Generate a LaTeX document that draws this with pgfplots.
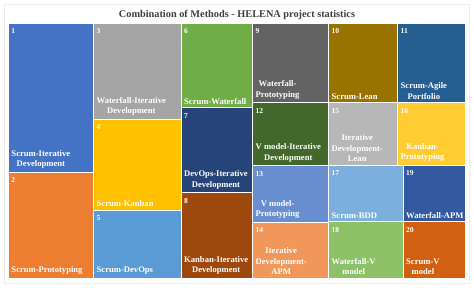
\documentclass[border=0pt]{standalone}
\usepackage{pgfplots}
\pgfplotsset{compat=1.18}
\usepackage{fontspec}
\setmainfont{Liberation Serif}
\definecolor{c1}{HTML}{4472C4}
\definecolor{c2}{HTML}{ED7D31}
\definecolor{c3}{HTML}{A5A5A5}
\definecolor{c4}{HTML}{FFC000}
\definecolor{c5}{HTML}{5B9BD5}
\definecolor{c6}{HTML}{70AD47}
\definecolor{c7}{HTML}{264478}
\definecolor{c8}{HTML}{9E480E}
\definecolor{c9}{HTML}{636363}
\definecolor{c10}{HTML}{997300}
\definecolor{c11}{HTML}{255E91}
\definecolor{c12}{HTML}{43682B}
\definecolor{c13}{HTML}{698ED0}
\definecolor{c14}{HTML}{F1975A}
\definecolor{c15}{HTML}{B7B7B7}
\definecolor{c16}{HTML}{FFCD33}
\definecolor{c17}{HTML}{7CAFDD}
\definecolor{c18}{HTML}{8CC168}
\definecolor{c19}{HTML}{335AA1}
\definecolor{c20}{HTML}{D26012}
\newcommand{\tmbox}[7]{%
  \addplot[fill=#5, draw=white, line width=1pt] coordinates {(#1,#2) (#3,#2) (#3,#4) (#1,#4)} -- cycle;
  \node[anchor=north west, inner sep=1pt, text=white, font=\fontsize{7.5}{8}\selectfont\bfseries] at (axis cs:#1+2,#2+4.5) {#6};
  \node[anchor=south west, inner sep=1pt, text=white, align=center, font=\fontsize{8.6}{10.5}\selectfont\bfseries] at (axis cs:#1+2,#4-2) {#7};
}
\begin{document}
\begin{tikzpicture}
\begin{axis}[
  scale only axis, width=474pt, height=287pt,
  xmin=0, xmax=474, ymin=0, ymax=287, y dir=reverse,
  hide axis, clip=false,
]
\path[fill=white] (axis cs:0,0) rectangle (axis cs:474,287);
\draw[color=black!7, line width=0.8pt] (axis cs:4,4) rectangle (axis cs:469.5,283.5);
\node[font=\fontsize{10.3}{12}\selectfont\bfseries, text=black!75, anchor=base] at (axis cs:237,17.5) {Combination of Methods - HELENA project statistics};
\tmbox{8.3}{23.3}{93.5}{172}{c1}{1}{Scrum-Iterative\\Development}
\tmbox{8.3}{172}{93.5}{278}{c2}{2}{Scrum-Prototyping}
\tmbox{93.5}{23.3}{181}{119}{c3}{3}{Waterfall-Iterative\\Development}
\tmbox{93.5}{119}{181}{210}{c4}{4}{Scrum-Kanban}
\tmbox{93.5}{210}{181}{278}{c5}{5}{Scrum-DevOps}
\tmbox{181}{23.3}{252.5}{107.5}{c6}{6}{Scrum-Waterfall}
\tmbox{181}{107.5}{252.5}{192.5}{c7}{7}{DevOps-Iterative\\Development}
\tmbox{181}{192.5}{252.5}{278}{c8}{8}{Kanban-Iterative\\Development}
\tmbox{252.5}{23.3}{328.5}{102.5}{c9}{9}{Waterfall-\\Prototyping}
\tmbox{328.5}{23.3}{397.5}{102.5}{c10}{10}{Scrum-Lean}
\tmbox{397.5}{23.3}{465.5}{102.5}{c11}{11}{Scrum-Agile\\Portfolio}
\tmbox{252.5}{102.5}{328.5}{165.5}{c12}{12}{V model-Iterative\\Development}
\tmbox{252.5}{165.5}{328.5}{222}{c13}{13}{V model-\\Prototyping}
\tmbox{252.5}{222}{328.5}{278}{c14}{14}{Iterative\\Development-\\APM}
\tmbox{328.5}{102.5}{397.5}{165}{c15}{15}{Iterative\\Development-\\Lean}
\tmbox{397.5}{102.5}{465.5}{165}{c16}{16}{Kanban-\\Prototyping}
\tmbox{328.5}{165}{403}{221.5}{c17}{17}{Scrum-BDD}
\tmbox{403}{165}{465.5}{221.5}{c19}{19}{Waterfall-APM}
\tmbox{328.5}{221.5}{403}{278}{c18}{18}{Waterfall-V\\model}
\tmbox{403}{221.5}{465.5}{278}{c20}{20}{Scrum-V\\model}
\end{axis}
\end{tikzpicture}
\end{document}
